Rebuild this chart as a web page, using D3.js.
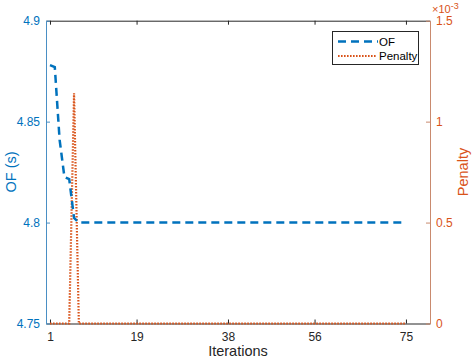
<!DOCTYPE html>
<html><head><meta charset="utf-8">
<script src="https://cdn.jsdelivr.net/npm/d3@7"></script>
<style>body{margin:0;background:#fff}svg{display:block}text{font-family:"Liberation Sans",Arial,sans-serif}</style>
</head><body><svg id="c" width="474" height="360"></svg>
<script>
const iterations = d3.range(1, 76);
const ofHead = [4.878, 4.877, 4.841, 4.8226, 4.8215, 4.8023];
const ofTail = 4.80;
const ofValues = iterations.map((d, i) => i < ofHead.length ? ofHead[i] : ofTail);
const penaltySpike = {5: 0, 6: 1.14e-3, 7: 0};
const penaltyValues = iterations.map(d => penaltySpike[d] !== undefined ? penaltySpike[d] : 0);
const xTicks = [1, 19, 38, 56, 75];
const yLeftTicks = [4.75, 4.8, 4.85, 4.9];
const yRightTicks = [0, 0.5e-3, 1e-3, 1.5e-3];
const seriesNames = ["OF", "Penalty"];

const blue = "#0072BD", orange = "#D95319";
const pL = 46, pR = 430, pT = 20.7, pB = 323.5;
const svg = d3.select("#c");
const x = d3.scaleLinear().domain([0.17, 80]).range([pL, pR]);
const yL = d3.scaleLinear().domain([4.75, 4.9]).range([pB, pT]);
const yR = d3.scaleLinear().domain([0, 1.5e-3]).range([pB, pT]);

// bottom axis
const gB = svg.append("g").attr("transform", `translate(0,${pB})`)
  .call(d3.axisBottom(x).tickValues(xTicks).tickSizeInner(-4).tickSizeOuter(0).tickPadding(9));
gB.select(".domain").attr("stroke", "#262626");
gB.selectAll(".tick line").attr("stroke", "#262626");
gB.selectAll("text").attr("font-size", 12).attr("fill", "#262626");
// top axis
const gT = svg.append("g").attr("transform", `translate(0,${pT})`)
  .call(d3.axisTop(x).tickValues(xTicks).tickSizeInner(-4).tickSizeOuter(0).tickFormat(""));
gT.select(".domain").attr("stroke", "#262626");
gT.selectAll(".tick line").attr("stroke", "#262626");

// left axis
const gL = svg.append("g").attr("transform", `translate(${pL},0)`)
  .call(d3.axisLeft(yL).tickValues(yLeftTicks).tickSizeInner(-4).tickSizeOuter(0).tickPadding(6).tickFormat(d3.format("")));
gL.selectAll(".domain, .tick line").attr("stroke", "#4a8fc4");
gL.selectAll("text").attr("font-size", 12).attr("fill", blue);
// right axis
const gR = svg.append("g").attr("transform", `translate(${pR},0)`)
  .call(d3.axisRight(yR).tickValues(yRightTicks).tickSizeInner(-4).tickSizeOuter(0).tickPadding(6).tickFormat(d => d3.format("")(+(d * 1000).toFixed(1))));
gR.selectAll(".domain, .tick line").attr("stroke", "#c98a6e");
gR.selectAll("text").attr("font-size", 12).attr("fill", orange);

// exponent label
const ex = svg.append("text").attr("x", 432).attr("y", 13).attr("fill", orange).attr("font-size", 11);
ex.append("tspan").text("×10");
ex.append("tspan").attr("dy", -4).attr("font-size", 9).text("-3");

// axis titles
svg.append("text").attr("x", 238).attr("y", 356).attr("text-anchor", "middle").attr("font-size", 14.5).attr("fill", "#262626").text("Iterations");
svg.append("text").attr("transform", `translate(16,172) rotate(-90)`).attr("text-anchor", "middle").attr("font-size", 14.5).attr("fill", blue).text("OF (s)");
svg.append("text").attr("transform", `translate(468,172) rotate(-90)`).attr("text-anchor", "middle").attr("font-size", 14.5).attr("fill", orange).text("Penalty");

// lines
const lineL = d3.line().x((d, i) => x(iterations[i])).y(d => yL(d));
const lineR = d3.line().x((d, i) => x(iterations[i])).y(d => yR(d));
svg.append("path").datum(penaltyValues).attr("d", lineR).attr("fill", "none")
  .attr("stroke", orange).attr("stroke-width", 2.2).attr("stroke-dasharray", "1.6,1.4");
svg.append("path").datum(ofValues).attr("d", lineL).attr("fill", "none")
  .attr("stroke", blue).attr("stroke-width", 2.5).attr("stroke-dasharray", "8,5");

// legend
const lg = svg.append("g");
lg.append("rect").attr("x", 332.5).attr("y", 31.5).attr("width", 86).attr("height", 33)
  .attr("fill", "#fff").attr("stroke", "#262626").attr("stroke-width", 1);
lg.append("line").attr("x1", 338).attr("x2", 378).attr("y1", 41.5).attr("y2", 41.5)
  .attr("stroke", blue).attr("stroke-width", 2.5).attr("stroke-dasharray", "8,5");
lg.append("line").attr("x1", 338).attr("x2", 376).attr("y1", 56).attr("y2", 56)
  .attr("stroke", orange).attr("stroke-width", 2.2).attr("stroke-dasharray", "1.6,1.4");
lg.selectAll("text.lab").data(seriesNames).join("text").attr("class", "lab")
  .attr("x", 379).attr("y", (d, i) => 45.5 + i * 14.5).attr("font-size", 11.5).attr("fill", "#000").text(d => d);
</script></body></html>
